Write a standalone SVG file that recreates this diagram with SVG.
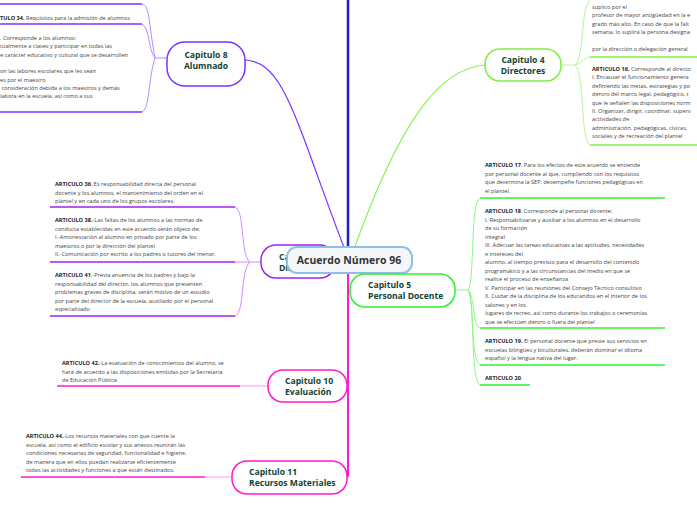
<svg xmlns="http://www.w3.org/2000/svg" width="697" height="520" viewBox="0 0 697 520">
<style>
.t{font-family:"Open Sans","Liberation Sans",sans-serif;font-size:5.6px;fill:#444}
.t tspan.b{font-weight:bold;fill:#222}
.n{font-family:"Open Sans","Liberation Sans",sans-serif;font-size:8.6px;font-weight:bold;fill:#0f4535}
.box{fill:#fff;stroke-width:1.5}
.c{fill:none}
</style>
<rect width="697" height="520" fill="#fff"/>
<g id="connectors">
<line x1="348" y1="0" x2="348" y2="250" stroke="#1a1ad8" stroke-width="2.5"/>
<path d="M348 262 V475 Q348 477 346 477" stroke="#ff1acc" stroke-width="2" class="c"/>
<path d="M245 60 C285 62 295 120 345 250" stroke="#7a33ff" stroke-width="1.2" class="c"/>
<path d="M353 252 C400 120 440 68 485 65" stroke="#8cf05a" stroke-width="1.2" class="c"/>
<line x1="335" y1="262" x2="348" y2="262" stroke="#a833ee" stroke-width="1"/>
<line x1="347" y1="386" x2="349" y2="386" stroke="#ff1acc"/>
<!-- cap 8 -->
<g stroke="#7a33ff" class="c">
<line x1="0" y1="4" x2="142" y2="4" stroke-width="1.5"/>
<line x1="0" y1="24" x2="142" y2="24" stroke-width="1.5"/>
<line x1="0" y1="112" x2="142" y2="112" stroke-width="1.5"/>
<path d="M142 4 C150 6 148 20 155 58 M142 24 C150 28 148 50 155 58 M142 112 C150 108 148 80 155 58 M155 58 H167" stroke="#b48cff" stroke-width="1"/>
</g>
<!-- cap 9 -->
<g class="c">
<line x1="50" y1="207" x2="235" y2="207" stroke="#a520ee" stroke-width="1.5"/>
<line x1="50" y1="262" x2="235" y2="262" stroke="#a520ee" stroke-width="1.5"/>
<line x1="50" y1="316" x2="235" y2="316" stroke="#a520ee" stroke-width="1.5"/>
<path d="M235 207 C245 210 240 255 250 262 M235 316 C245 313 240 270 250 262 M235 262 H261" stroke="#d08cff" stroke-width="1"/>
</g>
<!-- cap 10, 11 -->
<line x1="57" y1="386" x2="240" y2="386" stroke="#ff1acc" stroke-width="1.5"/>
<line x1="240" y1="386" x2="268" y2="386" stroke="#ff9be8" stroke-width="1"/>
<line x1="21" y1="477" x2="205" y2="477" stroke="#ff1acc" stroke-width="1.5"/>
<line x1="205" y1="477" x2="232" y2="477" stroke="#ff9be8" stroke-width="1"/>
<!-- cap 4 -->
<g class="c">
<line x1="590" y1="57" x2="697" y2="57" stroke="#7df040" stroke-width="1.5"/>
<line x1="590" y1="145" x2="697" y2="145" stroke="#7df040" stroke-width="1.5"/>
<path d="M590 0 C580 10 585 55 575 65 M590 57 C582 59 582 63 575 65 M590 145 C580 140 585 75 575 65 M560 65 H575" stroke="#b8f59a" stroke-width="1"/>
</g>
<!-- cap 5 -->
<g class="c">
<line x1="480" y1="198" x2="665" y2="198" stroke="#2ef02e" stroke-width="1.5"/>
<line x1="480" y1="328" x2="665" y2="328" stroke="#2ef02e" stroke-width="1.5"/>
<line x1="480" y1="365" x2="665" y2="365" stroke="#2ef02e" stroke-width="1.5"/>
<line x1="480" y1="385" x2="530" y2="385" stroke="#2ef02e" stroke-width="1.5"/>
<path d="M480 198 C470 202 475 280 468 290 M480 328 C472 325 475 295 468 290 M480 365 C470 360 475 300 468 290 M480 385 C470 380 475 300 468 290 M455 290 H468" stroke="#8ff58f" stroke-width="1"/>
</g>
</g>
<g id="cap9"><rect class="box" x="261" y="245" width="74" height="33" rx="15" stroke="#a520ee"/><text class="n" x="279" y="260">Capitulo 9<tspan x="279" dy="11">Disciplina</tspan></text></g>
<g id="center"><rect x="287" y="247" width="125" height="26" rx="10" fill="#f4f8fb" stroke="#8cc0e6" stroke-width="2"/><text x="349" y="264" text-anchor="middle" font-family="Open Sans,Liberation Sans,sans-serif" font-size="10.5" font-weight="bold" fill="#333">Acuerdo Número 96</text></g>
<g id="cap8"><rect class="box" x="167" y="42" width="78" height="44" rx="18" stroke="#7a33ff"/><text class="n" x="206" y="58" text-anchor="middle">Capitulo 8<tspan x="206" dy="11">Alumnado</tspan></text></g>
<g id="cap4"><rect class="box" x="485" y="49" width="76" height="32" rx="15" stroke="#7df040"/><text class="n" x="523" y="63" text-anchor="middle">Capitulo 4<tspan x="523" dy="11">Directores</tspan></text></g>
<g id="cap5"><rect class="box" x="350" y="274" width="105" height="33" rx="15" stroke="#2ef02e"/><text class="n" x="368" y="288">Capitulo 5<tspan x="368" dy="11">Personal Docente</tspan></text></g>
<g id="cap10"><rect class="box" x="268" y="370" width="79" height="32" rx="15" stroke="#ff1acc"/><text class="n" x="285" y="384">Capitulo 10<tspan x="285" dy="11">Evaluación</tspan></text></g>
<g id="cap11"><rect class="box" x="232" y="461" width="115" height="33" rx="15" stroke="#ff1acc"/><text class="n" x="249" y="475">Capitulo 11<tspan x="249" dy="11">Recursos Materiales</tspan></text></g>
<g id="texts">
<text class="t" x="0" y="20"><tspan class="b">TULO 34.</tspan> Requisitos para la admisión de alumnos</text>
<text class="t" x="0" y="40">. Corresponde a los alumnos:<tspan x="0" dy="8.3">tualmente a clases y participar en todas las</tspan><tspan x="0" dy="8.3">e carácter educativo y cultural que se desarrollen</tspan><tspan x="0" dy="16.6">on las labores escolares que les sean</tspan><tspan x="0" dy="8.3">es por el maestro</tspan><tspan x="0" dy="8.3"> consideración debida a los maestros y demás</tspan><tspan x="0" dy="8.3">labora en la escuela, así como a sus</tspan></text>
<text class="t" x="55" y="186"><tspan class="b">ARTICULO 36</tspan>. Es responsabilidad directa del personal<tspan x="55" dy="8.5">docente y los alumnos, el mantenimiento del orden en el</tspan><tspan x="55" dy="8.5">plantel y en cada uno de los grupos escolares.</tspan></text>
<text class="t" x="55" y="222"> <tspan class="b">ARTICULO 38.</tspan>-Las faltas de los alumnos a las normas de<tspan x="55" dy="8.5">conducta establecidas en este acuerdo serán objeto de:</tspan><tspan x="55" dy="8.5">I.-Amonestación al alumno en privado por parte de los</tspan><tspan x="55" dy="8.5">maestros o por la dirección del plantel</tspan><tspan x="55" dy="8.5">II.-Comunicación por escrito a los padres o tutores del menor.</tspan></text>
<text class="t" x="55" y="277"><tspan class="b">ARTICULO 41</tspan>.-Previa anuencia de los padres y bajo la<tspan x="55" dy="8.5">responsabilidad del director, los alumnos que presenten</tspan><tspan x="55" dy="8.5">problemas graves de disciplina, serán motivo de un estudio</tspan><tspan x="55" dy="8.5">por parte del director de la escuela, auxiliado por el personal</tspan><tspan x="55" dy="8.5">especializado</tspan></text>
<text class="t" x="62" y="365"><tspan class="b">ARTICULO 42.</tspan>-La evaluación de conocimientos del alumno, se<tspan x="62" dy="8.5">hará de acuerdo a las disposiciones emitidas por la Secretaría</tspan><tspan x="62" dy="8.5">de Educación Pública</tspan></text>
<text class="t" x="26" y="438"><tspan class="b">ARTICULO 44.</tspan>-Los recursos materiales con que cuente la<tspan x="26" dy="8.5">escuela, así como el edificio escolar y sus anexos reunirán las</tspan><tspan x="26" dy="8.5">condiciones necesarias de seguridad, funcionalidad e higiene,</tspan><tspan x="26" dy="8.5">de manera que en ellos puedan realizarse eficientemente</tspan><tspan x="26" dy="8.5">todas las actividades y funciones a que están destinados.</tspan></text>
<text class="t" x="592" y="9">suplico por el<tspan x="592" dy="8.3">profesor de mayor antigüedad en la e</tspan><tspan x="592" dy="8.3">grado más alto. En caso de que la falt</tspan><tspan x="592" dy="8.3">semana, lo suplirá la persona designa</tspan><tspan x="592" dy="16.6">por la dirección o delegación general</tspan></text>
<text class="t" x="592" y="71"><tspan class="b">ARTICULO 16.</tspan> Corresponde al directo<tspan x="592" dy="8.4">I. Encauzar el funcionamiento genera</tspan><tspan x="592" dy="8.4">definiendo las metas, estrategias y po</tspan><tspan x="592" dy="8.4">dentro del marco legal, pedagógico, t</tspan><tspan x="592" dy="8.4">que le señalen las disposiciones norm</tspan><tspan x="592" dy="8.4">II. Organizar, dirigir, coordinar, superv</tspan><tspan x="592" dy="8.4">actividades de</tspan><tspan x="592" dy="8.4">administración, pedagógicas, cívicas,</tspan><tspan x="592" dy="8.4">sociales y de recreación del plantel</tspan></text>
<text class="t" x="485" y="167"><tspan class="b">ARTICULO 17</tspan>. Para los efectos de este acuerdo se entiende<tspan x="485" dy="8.5">por personal docente al que, cumpliendo con los requisitos</tspan><tspan x="485" dy="8.5">que determina la SEP, desempeñe funciones pedagógicas en</tspan><tspan x="485" dy="8.5">el plantel.</tspan></text>
<text class="t" x="485" y="213"><tspan class="b">ARTICULO 18</tspan>. Corresponde al personal docente:<tspan x="485" dy="8.5">I. Responsabilizarse y auxiliar a los alumnos en el desarrollo</tspan><tspan x="485" dy="8.5">de su formación</tspan><tspan x="485" dy="8.5">integral</tspan><tspan x="485" dy="8.5">III. Adecuar las tareas educativas a las aptitudes, necesidades</tspan><tspan x="485" dy="8.5">e intereses del</tspan><tspan x="485" dy="8.5">alumno, al tiempo previsto para el desarrollo del contenido</tspan><tspan x="485" dy="8.5">programático y a las circunstancias del medio en que se</tspan><tspan x="485" dy="8.5">realice el proceso de enseñanza</tspan><tspan x="485" dy="8.5">V. Participar en las reuniones del Consejo Técnico consultivo</tspan><tspan x="485" dy="8.5">X. Cuidar de la disciplina de los educandos en el interior de los</tspan><tspan x="485" dy="8.5">salones y en los</tspan><tspan x="485" dy="8.5">lugares de recreo, así como durante los trabajos o ceremonias</tspan><tspan x="485" dy="8.5">que se efectúen dentro o fuera del plantel</tspan></text>
<text class="t" x="485" y="343"><tspan class="b">ARTICULO 19.</tspan> El personal docente que preste sus servicios en<tspan x="485" dy="8.5">escuelas bilingües y biculturales, deberán dominar el idioma</tspan><tspan x="485" dy="8.5">español y la lengua nativa del lugar.</tspan></text>
<text class="t" x="485" y="380"><tspan class="b">ARTICULO 20</tspan>.</text>
</g>
</svg>
